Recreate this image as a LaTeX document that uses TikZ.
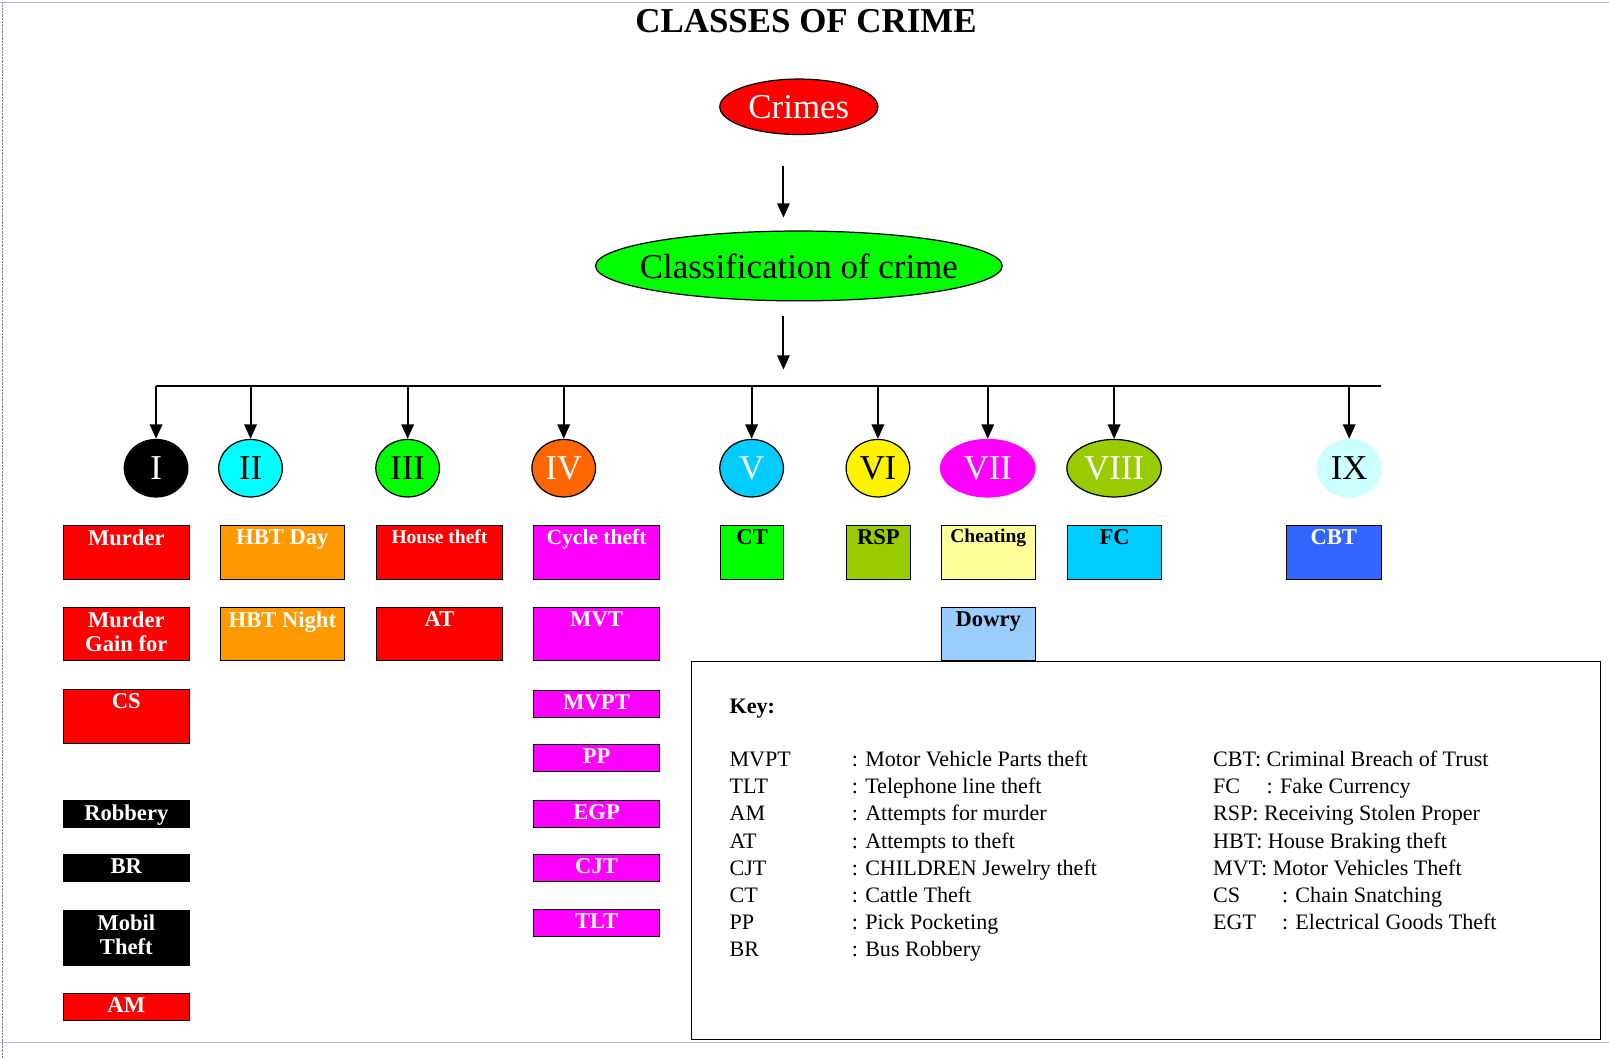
\documentclass[tikz,border=0pt]{standalone}
\usepackage{fontspec}
\setmainfont{Liberation Serif}
\usetikzlibrary{shapes.geometric,arrows.meta}
\definecolor{orng}{HTML}{FF9900}
\definecolor{mag}{HTML}{FF00FF}
\definecolor{olive2}{HTML}{99CC00}
\definecolor{lyel}{HTML}{FFFF99}
\definecolor{sky}{HTML}{00CCFF}
\definecolor{cyn}{HTML}{00FFFF}
\definecolor{cbt}{HTML}{3366FF}
\definecolor{dow}{HTML}{99CCFF}
\definecolor{lcy}{HTML}{CCFFFF}
\definecolor{org}{HTML}{FF6600}
\begin{document}
\begin{tikzpicture}[x=1pt,y=-1pt,
  ell/.style={ellipse,draw=black,line width=1.2pt,inner sep=0pt},
  rom/.style={ell,minimum width=62pt,minimum height=56pt,font=\fontsize{34}{34}\selectfont},
  box/.style={draw=black,line width=1pt,inner sep=0pt,anchor=north west},
  btxt/.style={anchor=north,font=\fontsize{22}{24}\selectfont\bfseries,text=white,align=center},
  arr/.style={-{Triangle[length=14pt,width=12pt]},line width=2pt},
  key/.style={anchor=base west,font=\fontsize{21.5}{21.5}\selectfont}]
\useasboundingbox (0,0) rectangle (1567,1032);
\draw[densely dotted,gray] (2,2) -- (2,1030);
\draw[blue!30,line width=1pt] (0,2) -- (1567,2);
\draw[blue!30,line width=1pt] (0,1015) -- (1567,1015);
\node[font=\fontsize{34}{34}\selectfont\bfseries] (title) at (785,21) {CLASSES OF CRIME};
\node[ell,fill=red,minimum width=154pt,minimum height=54pt,text=white,font=\fontsize{34}{34}\selectfont] (crimes) at (778,104) {Crimes};
\node[ell,fill=green,minimum width=396pt,minimum height=68pt,inner xsep=-30pt,font=\fontsize{34}{34}\selectfont] (class) at (778,259) {Classification of crime};
\coordinate (a1) at (763,162); \coordinate (a2) at (763,212);
\coordinate (b1) at (763,308); \coordinate (b2) at (763,360);
\draw[arr] (a1) -- (a2);
\draw[arr] (b1) -- (b2);
\coordinate (hl) at (152,376); \coordinate (hr) at (1345,376);
\draw[line width=2pt] (hl) -- (hr);
\foreach \n/\x/\w/\fc/\tc/\dr in {I/152/62/black/white/black, II/244/62/cyn/black/black, III/397/62/green/black/black, IV/549/62/org/white/black, V/732/62/sky/white/black, VI/855/62/yellow/black/black, VII/962/92/mag/white/mag, VIII/1085/92/olive2/white/black, IX/1314/62/lcy/black/lcy}{
  \node[rom,fill=\fc,text=\tc,draw=\dr,minimum width=\w pt] (r\n) at (\x,456) {\n};
  \coordinate (t\n) at (\x,376);
  \draw[arr] (t\n) -- (r\n.north);
}
\foreach \nm/\x/\y/\w/\h/\fc/\tc/\t in {
  m1/61/511/123/53/red/white/Murder,
  m2/61/591/123/52/red/white/{Murder\\Gain for},
  m3/61/671/123/53/red/white/CS,
  m4/61/779/123/26/black/white/Robbery,
  m5/61/832/123/26/black/white/BR,
  m6/61/886/123/54/black/white/{Mobil\\Theft},
  m7/61/967/123/26/red/white/AM,
  h1/214/511/121/53/orng/white/HBT Day,
  h2/214/591/121/52/orng/white/HBT Night,
  ht1/366/511/123/53/red/white/{\fontsize{19}{19}\selectfont House theft},
  ht2/366/591/123/52/red/white/AT,
  c1/519/511/123/53/mag/white/{\fontsize{21}{21}\selectfont Cycle theft},
  c2/519/591/123/52/mag/white/MVT,
  c3/519/672/123/26/mag/white/MVPT,
  c4/519/725/123/26/mag/white/PP,
  c5/519/779/123/26/mag/white/EGP,
  c6/519/832/123/26/mag/white/CJT,
  c7/519/885/123/27/mag/white/TLT,
  v1/701/511/62/53/green/black/CT,
  v2/824/511/62/53/olive2/black/RSP,
  v3/916/511/92/53/lyel/black/{\fontsize{19}{19}\selectfont Cheating},
  v4/916/591/92/52/dow/black/Dowry,
  f1/1039/511/92/53/sky/black/FC,
  g1/1252/511/93/53/cbt/white/CBT}{
  \node[box,fill=\fc,minimum width=\w pt,minimum height=\h pt] (\nm) at (\x,\y) {};
  \node[btxt,text=\tc] at ([yshift=-1pt]\nm.north) {\t};
}
\node[draw=black,line width=1.2pt,anchor=north west,minimum width=885pt,minimum height=368pt,inner sep=0pt] (keybox) at (673,644) {};
\node[key,font=\fontsize{21.5}{21.5}\selectfont\bfseries] at (707,695) {Key:};
\foreach \a/\b [count=\i] in {MVPT/Motor Vehicle Parts theft, TLT/Telephone line theft, AM/Attempts for murder, AT/Attempts to theft, CJT/CHILDREN Jewelry theft, CT/Cattle Theft, PP/Pick Pocketing, BR/Bus Robbery}{
  \node[key] at (707,{720+26.5*\i}) {\a};
  \node[key] at (826,{720+26.5*\i}) {: \b};
}
\foreach \a/\r in {CBT: Criminal Breach of Trust/1, RSP: Receiving Stolen Proper/3, HBT: House Braking theft/4, MVT: Motor Vehicles Theft/5}{
  \node[key] at (1178,{720+26.5*\r}) {\a};
}
\node[key] at (1178,{720+26.5*2}) {FC}; \node[key] at (1230,{720+26.5*2}) {: Fake Currency};
\node[key] at (1178,{720+26.5*6}) {CS}; \node[key] at (1245,{720+26.5*6}) {: Chain Snatching};
\node[key] at (1178,{720+26.5*7}) {EGT}; \node[key] at (1245,{720+26.5*7}) {: Electrical Goods Theft};
\end{tikzpicture}
\end{document}
